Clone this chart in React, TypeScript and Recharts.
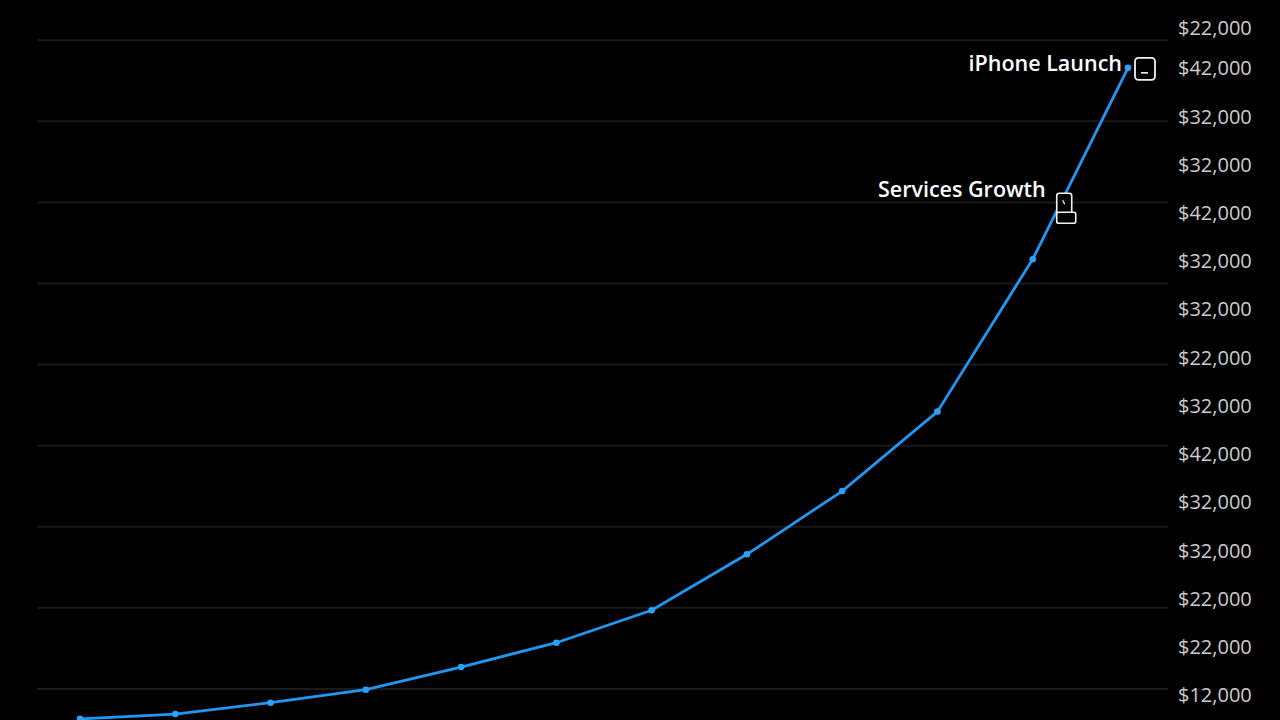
import React from "react";
import { LineChart, Line, XAxis, YAxis, ReferenceLine, ReferenceDot } from "recharts";

// ---- data ----
const years = ["2010", "2011", "2012", "2013", "2014", "2015", "2016", "2017", "2018", "2019", "2020", "2021"];
const revenue = [63, 69, 83, 99, 127, 157, 197, 266, 344, 442, 630, 866];
const gridValues = [100, 200, 300, 400, 500, 600, 700, 800, 900];
// right-axis labels, bottom to top
const tickLabels = [
  "$12,000",
  "$22,000",
  "$22,000",
  "$32,000",
  "$32,000",
  "$42,000",
  "$32,000",
  "$22,000",
  "$32,000",
  "$32,000",
  "$42,000",
  "$32,000",
  "$32,000",
  "$42,000",
  "$22,000",
];
// label-axis positions of those labels (bottom to top)
const tickSteps = [0, 1, 2, 3, 4, 5, 6, 7, 8, 9, 10, 11, 12, 13, 13.84];
const annotations = [
  { index: 11, label: "iPhone Launch" },
  { index: 10, label: "Services Growth" },
];

const data = years.map((y, i) => ({ year: y, revenue: revenue[i] }));

const FONT = "'Open Sans', 'DejaVu Sans', sans-serif";
const LINE = "#2196F3";

const LaunchMark = (props: any) => {
  const { cx, cy } = props;
  return (
    <g>
      <text
        x={cx - 6}
        y={cy - 5}
        textAnchor="end"
        dominantBaseline="central"
        fill="#ffffff"
        fontFamily={FONT}
        fontWeight={600}
        fontSize={21.5}
      >
        {annotations[0].label}
      </text>
      <rect x={cx + 7} y={cy - 10} width={20} height={22} rx={3.5} fill="#000" stroke="#f2f2f2" strokeWidth={1.8} />
      <line x1={cx + 13} y1={cy + 5} x2={cx + 20} y2={cy + 5} stroke="#f2f2f2" strokeWidth={1.6} />
    </g>
  );
};

const ServicesMark = (props: any) => {
  const { cx, cy } = props;
  return (
    <g>
      <text
        x={cx + 13}
        y={cy - 71}
        textAnchor="end"
        dominantBaseline="central"
        fill="#ffffff"
        fontFamily={FONT}
        fontWeight={600}
        fontSize={21.5}
      >
        {annotations[1].label}
      </text>
      <rect x={cx + 24} y={cy - 66} width={15} height={30} rx={2.5} fill="#000" stroke="#f2f2f2" strokeWidth={1.6} />
      <rect x={cx + 24} y={cy - 47} width={19} height={11} rx={2} fill="#000" stroke="#f2f2f2" strokeWidth={1.6} />
      <line x1={cx + 30} y1={cy - 59} x2={cx + 32} y2={cy - 55} stroke="#f2f2f2" strokeWidth={1.3} />
    </g>
  );
};

export default function App() {
  return (
    <div
      style={{
        position: "fixed",
        left: 0,
        top: 0,
        width: 1280,
        height: 720,
        overflow: "hidden",
        background: "#000",
      }}
    >
      <LineChart width={1280} height={770} data={data} margin={{ top: 20, right: 0, bottom: 0, left: 37 }}>
        <XAxis dataKey="year" hide padding={{ left: 43, right: 40 }} />
        <YAxis yAxisId="val" hide type="number" domain={[0, 925]} allowDataOverflow />
        <YAxis
          yAxisId="lab"
          orientation="right"
          type="number"
          width={112}
          domain={[-1.55, 14]}
          ticks={tickSteps}
          allowDataOverflow
          interval={0}
          axisLine={false}
          tickLine={false}
          tickSize={6}
          tickMargin={4}
          tickFormatter={(_v: number, i: number) => tickLabels[i] ?? ""}
          tick={{ fill: "#cccccc", fontSize: 20, fontFamily: FONT, textAnchor: "start" }}
        />
        {gridValues.map((v) => (
          <ReferenceLine key={v} yAxisId="val" y={v} stroke="#1a1a1a" strokeWidth={2} />
        ))}
        <Line
          yAxisId="val"
          type="linear"
          dataKey="revenue"
          stroke={LINE}
          strokeWidth={2.8}
          dot={{ r: 3.3, fill: "#2aa2ff", stroke: "none" }}
          activeDot={false}
          isAnimationActive={false}
        />
        <ReferenceDot
          yAxisId="val"
          x={years[annotations[1].index]}
          y={revenue[annotations[1].index]}
          r={0}
          shape={ServicesMark}
        />
        <ReferenceDot
          yAxisId="val"
          x={years[annotations[0].index]}
          y={revenue[annotations[0].index]}
          r={0}
          shape={LaunchMark}
        />
      </LineChart>
    </div>
  );
}
